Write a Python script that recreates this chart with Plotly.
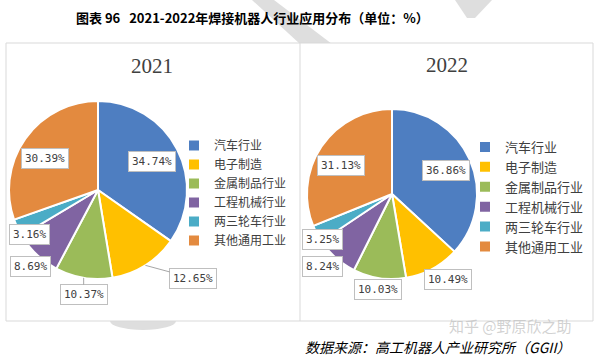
import math
import plotly.graph_objects as go

W, H = 600, 360

# ---------------- data ----------------
categories = ["汽车行业", "电子制造", "金属制品行业", "工程机械行业", "两三轮车行业", "其他通用工业"]
years = ["2021", "2022"]
values_2021 = [34.74, 12.65, 10.37, 8.69, 3.16, 30.39]
values_2022 = [36.86, 10.49, 10.03, 8.24, 3.25, 31.13]
title_text = "图表 96   2021-2022年焊接机器人行业应用分布（单位：%）"
source_text = "数据来源：高工机器人产业研究所（GGII）"
watermark_text = "知乎 @野原欣之助"

# ---------------- style ----------------
colors = ["#4E7EC1", "#FFC000", "#9BBB59", "#8064A2", "#4BACC6", "#E38A3F"]
pie_geom = [dict(cx=98, cy=190, r=89), dict(cx=392, cy=194, r=85)]
# per-label placement: (radial factor, dx px, dy px, leader line)
label_style = [
    [(0.69, 0, 0, False), (1.0, 48, 13, True), (1.0, 0, 17, True),
     (1.0, -6, 12, False), (1.0, 12, 7, False), (0.70, -2, 4, False)],
    [(0.69, 0, 0, False), (1.0, 16, 11, False), (1.0, -1, 11, False),
     (1.0, -13, 9, False), (1.0, 6, 6, False), (0.69, -2, 4, False)],
]
year_pos = [(152, 66), (447, 65)]
legend_pos = [dict(x=174, y=193, size=12), dict(x=465, y=197, size=13)]


def px(x):
    return x / W


def py(y):
    return 1 - y / H


fig = go.Figure()
annotations = []
series = [values_2021, values_2022]

for i, vals in enumerate(series):
    g = pie_geom[i]
    dom_x = [px(g["cx"] - g["r"]), px(g["cx"] + g["r"])]
    dom_y = [py(g["cy"] + g["r"]), py(g["cy"] - g["r"])]
    # a zero-width suffix keeps each chart's legend separate
    labels = [c + ("\u200b" * i) for c in categories]
    fig.add_trace(go.Pie(
        labels=labels, values=vals, sort=False, direction="clockwise",
        rotation=0, textinfo="none", hoverinfo="label+percent",
        marker=dict(colors=colors, line=dict(color="white", width=2)),
        domain=dict(x=dom_x, y=dom_y),
        legend="legend" if i == 0 else "legend2",
        showlegend=True,
    ))
    total = sum(vals)
    cum = 0.0
    for j, v in enumerate(vals):
        theta = math.radians(360.0 * (cum + v / 2.0) / total)
        cum += v
        k, dx, dy, leader = label_style[i][j]
        ax_ = g["cx"] + g["r"] * k * math.sin(theta)
        ay_ = g["cy"] - g["r"] * k * math.cos(theta)
        common = dict(
            xref="paper", yref="paper", x=px(ax_), y=py(ay_),
            xanchor="center", yanchor="middle",
            text=f"{v:.2f}%",
            font=dict(family="DejaVu Sans Mono", size=11, color="#404040"),
            bgcolor="white", bordercolor="#BFBFBF", borderwidth=1, borderpad=3,
        )
        if leader:
            annotations.append(dict(common, showarrow=True, ax=dx, ay=dy,
                                    axref="pixel", ayref="pixel", arrowhead=0,
                                    arrowwidth=1, arrowcolor="#A6A6A6", standoff=0))
        else:
            annotations.append(dict(common, showarrow=False, xshift=dx, yshift=-dy))
    yx, yy = year_pos[i]
    annotations.append(dict(xref="paper", yref="paper", x=px(yx), y=py(yy),
                            xanchor="center", yanchor="middle",
                            text=years[i], showarrow=False,
                            font=dict(family="Liberation Serif", size=21, color="#404040")))

annotations.append(dict(xref="paper", yref="paper", x=px(252), y=py(17),
                        xanchor="center", yanchor="middle",
                        text=f"<b>{title_text}</b>", showarrow=False,
                        font=dict(family="Noto Sans CJK SC", size=13, color="#000000")))
annotations.append(dict(xref="paper", yref="paper", x=px(510), y=py(325),
                        xanchor="center", yanchor="middle",
                        text=watermark_text, showarrow=False,
                        font=dict(family="Noto Sans CJK SC", size=15, color="rgba(190,190,190,0.7)")))
annotations.append(dict(xref="paper", yref="paper", x=px(303), y=py(347),
                        xanchor="left", yanchor="middle", text=source_text, showarrow=False,
                        font=dict(family="Noto Sans CJK SC", size=14, color="#000000",
                                  style="italic")))

shade = "#DEDEDE"
shapes = [
    # faint watermark strokes behind the chart
    dict(type="path", xref="paper", yref="paper", layer="below", fillcolor=shade, line=dict(width=0),
         path=f"M{px(252)},{py(0)} L{px(274)},{py(0)} L{px(332)},{py(44)} L{px(300)},{py(44)} Z"),
    dict(type="path", xref="paper", yref="paper", layer="below", fillcolor=shade, line=dict(width=0),
         path=f"M{px(455)},{py(0)} L{px(492)},{py(0)} L{px(475)},{py(18)} L{px(467)},{py(18)} Z"),
    dict(type="circle", xref="paper", yref="paper", layer="below", fillcolor=shade, line=dict(width=0),
         x0=px(110), x1=px(176), y0=py(330), y1=py(312)),
    # chart frames
    dict(type="rect", xref="paper", yref="paper", layer="below", fillcolor="white",
         line=dict(color="#D9D9D9", width=1), x0=px(6), x1=px(593), y0=py(321), y1=py(43)),
    dict(type="line", xref="paper", yref="paper", layer="below",
         line=dict(color="#D9D9D9", width=1), x0=px(300), x1=px(300), y0=py(321), y1=py(43)),
]


def legend_cfg(p):
    return dict(x=px(p["x"]), y=py(p["y"]), xanchor="left", yanchor="middle",
                bgcolor="rgba(0,0,0,0)", borderwidth=0,
                font=dict(family="Noto Sans CJK SC", size=p["size"], color="#404040"))


fig.update_layout(
    width=W, height=H, margin=dict(l=0, r=0, t=0, b=0),
    paper_bgcolor="white", plot_bgcolor="white",
    legend=legend_cfg(legend_pos[0]),
    legend2=legend_cfg(legend_pos[1]),
    annotations=annotations, shapes=shapes,
)

fig.write_html("out.html", config={"displayModeBar": False},
               post_script="document.body.style.margin='0';document.body.style.overflow='hidden';")
